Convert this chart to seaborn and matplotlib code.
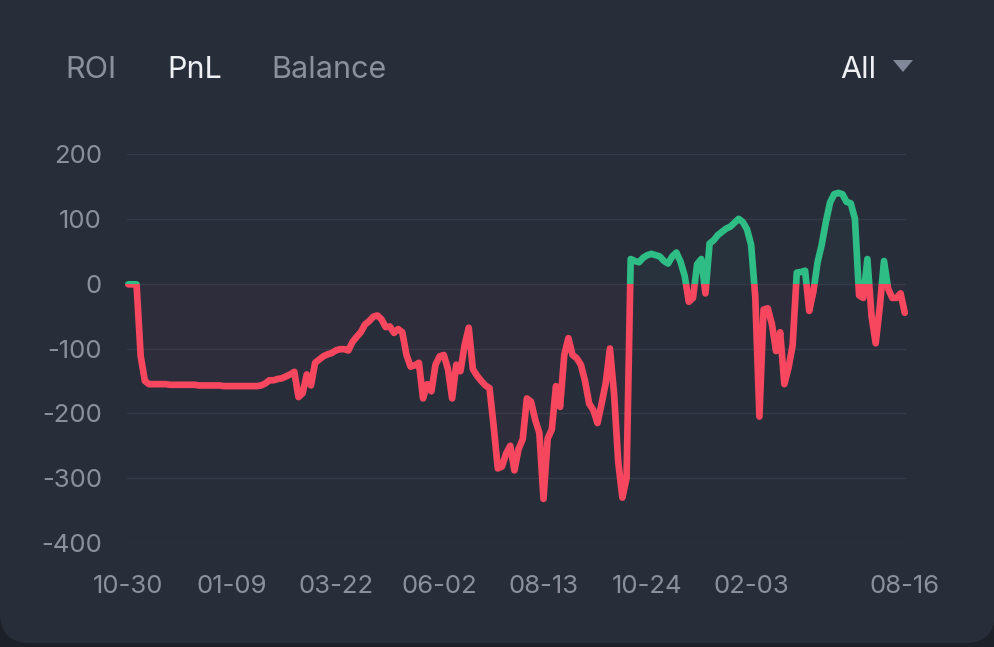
import numpy as np
import pandas as pd
import matplotlib
matplotlib.use("Agg")
import matplotlib.pyplot as plt
from matplotlib.patches import Rectangle, FancyBboxPatch, Polygon
import seaborn as sns

# daily PnL values (one per recorded day)
pnl = [-1, -1, -1, -112, -150, -155, -155, -155, -155, -155,
       -156, -156, -156, -156, -156, -156, -156, -157, -157, -157,
       -157, -157, -157, -158, -158, -158, -158, -158, -158, -158,
       -158, -158, -157, -154, -149, -149, -147, -146, -143, -140,
       -136, -175, -169, -140, -157, -122, -117, -112, -109, -107,
       -103, -101, -101, -103, -90, -82, -75, -63, -58, -51,
       -49, -55, -67, -66, -76, -70, -75, -110, -128, -126,
       -122, -177, -155, -166, -125, -112, -110, -132, -177, -125,
       -135, -95, -68, -132, -142, -150, -157, -161, -220, -285,
       -282, -262, -250, -288, -255, -240, -177, -182, -210, -230,
       -332, -239, -225, -158, -190, -110, -84, -110, -115, -125,
       -150, -185, -195, -215, -185, -153, -100, -170, -275, -330,
       -300, 38, 35, 33, 40, 44, 46, 44, 42, 35,
       31, 42, 48, 34, 12, -28, -22, 30, 38, -15,
       62, 67, 75, 80, 85, 88, 94, 100, 95, 84,
       60, -20, -205, -40, -38, -62, -104, -75, -155, -130,
       -95, 17, 18, 20, -42, -12, 33, 60, 95, 125,
       138, 140, 138, 126, 124, 100, -18, -22, 38, -50,
       -92, -35, 35, -8, -22, -22, -15, -45]

date_labels = ['10-30', '01-09', '03-22', '06-02', '08-13', '10-24', '02-03', '08-16']
label_days = [0, 25, 50, 75, 100, 125, 150, len(pnl) - 1]
y_ticks = [200, 100, 0, -100, -200, -300, -400]

tabs = ['ROI', 'PnL', 'Balance']
period = 'All'

bg = '#282d3a'
outer = '#1c2029'
grid_col = '#343a48'
muted = '#8b909c'
bright = '#eef0f3'
red = '#f7475f'
green = '#2ebd85'

df = pd.DataFrame({'day': np.arange(len(pnl)), 'pnl': pnl})

sns.set_theme(style='dark', rc={'axes.facecolor': bg, 'figure.facecolor': outer,
                                'axes.unicode_minus': False})
plt.rcParams['font.family'] = ['Inter', 'DejaVu Sans']

fig = plt.figure(figsize=(9.95, 6.47), dpi=100)
card = FancyBboxPatch((0, 4), 995, 700, boxstyle='round,pad=0,rounding_size=30',
                      transform=None, facecolor=bg, edgecolor='none', zorder=-10)
fig.patches.append(card)

ax = fig.add_axes([127 / 995, 1 - 543 / 647, (906 - 127) / 995, (543 - 154) / 647])
ax.set_facecolor(bg)
ax.set_zorder(1)

# faint area between the curve and zero
vals = df['pnl'].to_numpy()
ax.fill_between(df['day'], vals, 0, where=vals < 0, interpolate=True,
                color=red, alpha=0.03, lw=0)
ax.fill_between(df['day'], vals, 0, where=vals > 0, interpolate=True,
                color=green, alpha=0.04, lw=0)

# same curve twice, one clipped above zero and one below
sns.lineplot(data=df, x='day', y='pnl', ax=ax, color=red, lw=4.8)
ax.lines[-1].set_clip_path(Rectangle((-50, -1000), 400, 1000, transform=ax.transData))
ax.lines[-1].set_solid_joinstyle('round')
sns.lineplot(data=df, x='day', y='pnl', ax=ax, color=green, lw=4.8)
ax.lines[-1].set_clip_path(Rectangle((-50, 0), 400, 1000, transform=ax.transData))
ax.lines[-1].set_solid_joinstyle('round')

ax.set_xlim(-0.3, len(pnl) - 0.7)
ax.set_ylim(-400, 200)
ax.set_yticks(y_ticks)
ax.set_xticks(label_days)
ax.set_xticklabels(date_labels)
ax.set_xlabel('')
ax.set_ylabel('')
ax.tick_params(axis='both', length=0, labelsize=18.5, labelcolor=muted)
ax.tick_params(axis='y', pad=18)
ax.tick_params(axis='x', pad=23)
ax.grid(axis='y', color=grid_col, lw=1)
ax.grid(axis='x', visible=False)
for s in ax.spines.values():
    s.set_visible(False)

# header tabs
tab_x = [65, 167, 271]
for t, xp in zip(tabs, tab_x):
    fig.text(xp / 995, 1 - 78 / 647, t, fontsize=22, va='baseline', ha='left',
             color=bright if t == 'PnL' else muted)
fig.text(840 / 995, 1 - 78 / 647, period, fontsize=22, va='baseline', ha='left', color=bright)
tri = Polygon([[893 / 995, 1 - 60 / 647], [913 / 995, 1 - 60 / 647], [903 / 995, 1 - 72 / 647]],
              closed=True, transform=fig.transFigure, facecolor='#80889a', edgecolor='none')
fig.patches.append(tri)

fig.savefig('out.png', dpi=100, facecolor=outer)
